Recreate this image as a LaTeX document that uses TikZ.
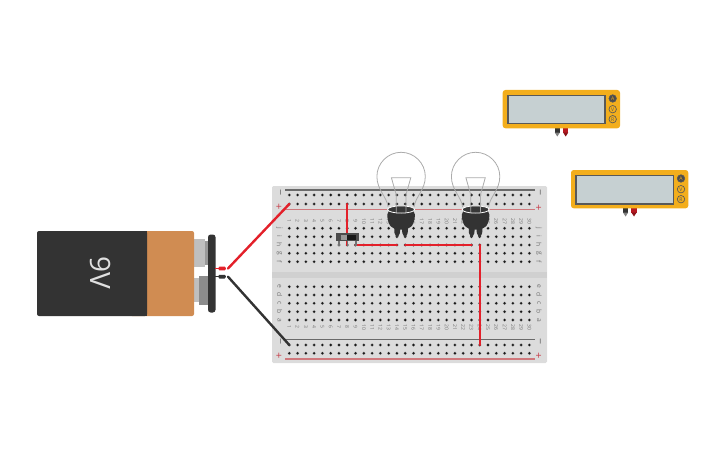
\documentclass[tikz,border=0pt]{standalone}
\usepackage{fontspec}
\setmainfont{Open Sans}
\usetikzlibrary{calc}
\definecolor{boardgray}{HTML}{DCDCDC}
\definecolor{channelgray}{HTML}{D0D0D0}
\definecolor{wirered}{HTML}{E3202A}
\definecolor{wireblack}{HTML}{333333}
\definecolor{railred}{HTML}{D0787C}
\definecolor{railblack}{HTML}{6A6A6A}
\definecolor{signred}{HTML}{C8404C}
\definecolor{batteryorange}{HTML}{D08C52}
\definecolor{meteryellow}{HTML}{F3AE1C}
\definecolor{meterscreen}{HTML}{C6D0D2}
\definecolor{glassgray}{HTML}{ABABAB}
\begin{document}
\begin{tikzpicture}[
    x=0.75pt, y=-0.75pt,
    hole/.style={fill=black!90},
    halo/.style={fill=black!28},
    boardlabel/.style={text=black!55, font=\fontsize{3.8}{3.8}\selectfont, rotate=-90, inner sep=0pt},
    sign/.style={font=\fontsize{8}{8}\selectfont, inner sep=0pt},
    wire/.style={line width=1.8pt, line cap=round, wirered},
    blackwire/.style={wire, wireblack},
    glass/.style={draw=glassgray, line width=0.6pt},
    button/.style={circle, draw=black!65, line width=0.5pt, minimum size=5.6pt, inner sep=0pt, text=black!65, font=\fontsize{3.8}{3.8}\selectfont}
]
    \useasboundingbox (0,0) rectangle (725,453);

    % Breadboard
    \fill[boardgray, rounded corners=1pt] (272,186) rectangle (547,363);
    \fill[channelgray] (272,271.5) rectangle (547,278);
    \draw[railblack, line width=1.1pt] (285,190) -- (535,190);
    \draw[railred, line width=1.1pt] (285,209.5) -- (535,209.5);
    \draw[railblack, line width=1.1pt] (285,339.3) -- (535,339.3);
    \draw[railred, line width=1.1pt] (285,359) -- (535,359);

    % Holes
    \foreach \r/\y in {tn/195,tp/204,j/228.3,i/236.7,h/245,g/253.3,f/261.7,e/286.7,d/295,c/303.3,b/311.7,a/320,bn/345,bp/353.3}{
        \foreach \c in {1,...,30}{
            \pgfmathsetmacro{\x}{289.3+(\c-1)*8.28}
            \coordinate (\r-\c) at (\x,\y);
            \fill[halo] (\r-\c) circle[radius=1.9];
            \fill[hole] (\r-\c) circle[radius=1.3];
        }
    }

    % Labels
    \foreach \c in {1,...,30}{
        \pgfmathsetmacro{\x}{289.3+(\c-1)*8.28}
        \node[boardlabel] (num-top-\c) at (\x,221) {\c};
        \node[boardlabel] (num-bot-\c) at (\x,327) {\c};
    }
    \foreach \r/\y in {j/228.3,i/236.7,h/245,g/253.3,f/261.7,e/286.7,d/295,c/303.3,b/311.7,a/320}{
        \node[boardlabel, font=\fontsize{5}{5}\selectfont] (left-\r) at (279.5,\y) {\r};
        \node[boardlabel, font=\fontsize{5}{5}\selectfont] (right-\r) at (539,\y) {\r};
    }
    \foreach \n/\x/\y in {tl/279/193,tr/538.7/193,bl/279/341.7,br/538.7/341.7}{
        \node[sign, text=black!60, rotate=-90] (\n-minus) at (\x,\y) {−};
    }
    \foreach \n/\x/\y in {tl/279/207.8,tr/538.7/208.3,bl/279/356,br/538.7/356}{
        \node[sign, text=signred] (\n-plus) at (\x,\y) {+};
    }

    % Battery
    \fill[black!25] (194,238.5) rectangle (205,267.3);
    \fill[black!40] (205,240.7) rectangle (209,265);
    \fill[black!25] (194,278) rectangle (199,302);
    \fill[black!45] (199,275.7) rectangle (209,305);
    \fill[batteryorange, rounded corners=1.5pt] (130,231) rectangle (194,316);
    \fill[wireblack, rounded corners=1.5pt] (37,231) rectangle (147,316);
    \fill[wireblack] (140,231) rectangle (147,316);
    \node[text=black!12, font=\fontsize{21}{21}\selectfont, rotate=-90, inner sep=0pt] (volt) at (101,272.5) {9V};

    % Clip
    \fill[wireblack, rounded corners=2pt] (208,234.5) rectangle (215.5,312.5);
    \coordinate (clip-red) at (228,268.5);
    \coordinate (clip-black) at (228,276.7);
    \draw[wirered, line width=1pt] (215,268.5) -- (226,268.5);
    \fill[wirered, rounded corners=0.6pt] (218.5,266.7) rectangle (225.5,270.3);
    \draw[wireblack, line width=1pt] (215,276.7) -- (226,276.7);
    \fill[wireblack, rounded corners=0.6pt] (218.5,274.9) rectangle (225.5,278.5);

    % Wires
    \draw[wire] (clip-red) -- (tp-1);
    \draw[blackwire] (clip-black) -- (bn-1);
    \draw[wire] (tp-8) -- (h-8);
    \draw[wire] (h-9) -- (h-14);
    \draw[wire] (h-15) -- (h-23);
    \draw[wire] (h-24) -- (bn-24);

    % Switch
    \foreach \c in {339,347.5,356}{
        \draw[black!55, line width=0.8pt] (\c,241) -- (\c,246);
    }
    \fill[black!70] (336,233.3) rectangle (359,241);
    \fill[black!40] (340.5,234.8) rectangle (347,239.5);
    \fill[black!90] (347,234.8) rectangle (356,239.5);

    % Bulbs
    \foreach \b/\m in {401.1/first,475.6/second}{
        \begin{scope}[shift={(\b,0)}]
            \fill[wireblack] (-7,226) -- (-6.6,233) -- (-4.8,237) -- (-3.2,237) -- (-1.2,233) -- (-0.8,226) -- cycle;
            \fill[wireblack] (7,226) -- (6.6,233) -- (4.8,237) -- (3.2,237) -- (1.2,233) -- (0.8,226) -- cycle;
            \fill[wireblack, rounded corners=4pt] (-13.7,209) -- (-13.7,222) -- (-8,229.5) -- (8,229.5) -- (13.7,222) -- (13.7,209) -- cycle;
            \fill[black!78] (0,209.5) ellipse[x radius=13.5, y radius=3.6];
            \draw[white, line width=0.6pt] (0,209.5) ellipse[x radius=13.5, y radius=3.6];
            \draw[glass] (-13,207) .. controls (-14,197) and (-24.2,190) .. (-24.2,176.5) .. controls (-24.2,163) and (-13,152.3) .. (0,152.3) .. controls (13,152.3) and (24.2,163) .. (24.2,176.5) .. controls (24.2,190) and (14,197) .. (13,207);
            \draw[glass] (-4.8,212) -- (-4.8,195) -- (-9.7,177.7) -- (9.7,177.7) -- (4.8,195) -- (4.8,212);
            \coordinate (bulb-\m) at (0,176.5);
        \end{scope}
    }

    % Meters
    \foreach \dx/\dy/\m in {0/0/one,68.3/80/two}{
        \begin{scope}[shift={(\dx,\dy)}]
            \fill[wireblack] (554.7,128) rectangle (559.9,132.5);
            \fill[black!50] (554.7,132.5) -- (559.9,132.5) -- (557.3,136.5) -- cycle;
            \fill[wirered!80!black] (563.1,128) rectangle (568.3,132.5);
            \fill[wirered!60!black] (563.1,132.5) -- (568.3,132.5) -- (565.7,136.5) -- cycle;
            \fill[meteryellow, rounded corners=2pt] (502.7,90) rectangle (620,128.3);
            \draw[black!65, fill=meterscreen, line width=1.2pt] (507.8,95.5) rectangle (605,123.7);
            \node[button, fill=black!70, text=meteryellow] (a-\m) at (612.7,98.5) {A};
            \node[button] (v-\m) at (612.7,109.2) {V};
            \node[button] (r-\m) at (612.7,119.2) {R};
        \end{scope}
    }
\end{tikzpicture}
\end{document}
